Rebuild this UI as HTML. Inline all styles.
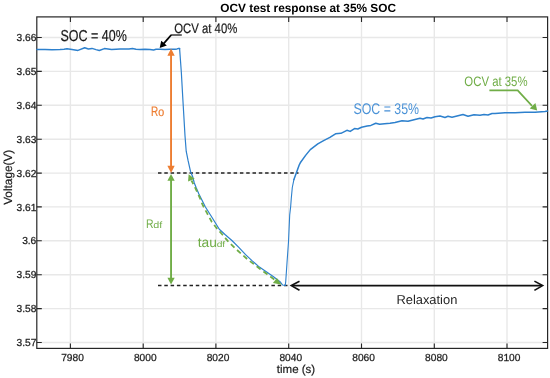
<!DOCTYPE html>
<html><head><meta charset="utf-8"><title>OCV test response at 35% SOC</title>
<style>
html,body{margin:0;padding:0;background:#fff;}
body{width:550px;height:378px;overflow:hidden;}
svg{display:block;}
text{font-family:"Liberation Sans",Arial,Helvetica,sans-serif;text-rendering:geometricPrecision;}
</style></head>
<body>
<svg width="550" height="378" viewBox="0 0 550 378">
<rect x="0" y="0" width="550" height="378" fill="#fff"/>
<path d="M70.4 16.9V348.4M143.2 16.9V348.4M215.9 16.9V348.4M288.7 16.9V348.4M361.5 16.9V348.4M434.3 16.9V348.4M507.0 16.9V348.4M36.8 37.5H547.6M36.8 71.4H547.6M36.8 105.3H547.6M36.8 139.2H547.6M36.8 173.1H547.6M36.8 206.9H547.6M36.8 240.8H547.6M36.8 274.7H547.6M36.8 308.6H547.6M36.8 342.5H547.6" stroke="#e8e8e8" stroke-width="1.4" fill="none"/>
<rect x="36.8" y="16.9" width="510.8" height="331.5" fill="none" stroke="#262626" stroke-width="1.2"/>
<path d="M70.4 348.4v-5M70.4 16.9v5M143.2 348.4v-5M143.2 16.9v5M215.9 348.4v-5M215.9 16.9v5M288.7 348.4v-5M288.7 16.9v5M361.5 348.4v-5M361.5 16.9v5M434.3 348.4v-5M434.3 16.9v5M507.0 348.4v-5M507.0 16.9v5M36.8 37.5h5M547.6 37.5h-5M36.8 71.4h5M547.6 71.4h-5M36.8 105.3h5M547.6 105.3h-5M36.8 139.2h5M547.6 139.2h-5M36.8 173.1h5M547.6 173.1h-5M36.8 206.9h5M547.6 206.9h-5M36.8 240.8h5M547.6 240.8h-5M36.8 274.7h5M547.6 274.7h-5M36.8 308.6h5M547.6 308.6h-5M36.8 342.5h5M547.6 342.5h-5" stroke="#262626" stroke-width="1.1" fill="none"/>
<g font-size="10.2" fill="#1c1c1c" stroke="#1c1c1c" stroke-width="0.25" text-anchor="end"><text x="36.3" y="41.1">3.66</text><text x="36.3" y="75.0">3.65</text><text x="36.3" y="108.9">3.64</text><text x="36.3" y="142.8">3.63</text><text x="36.3" y="176.7">3.62</text><text x="36.3" y="210.5">3.61</text><text x="36.3" y="244.4">3.6</text><text x="36.3" y="278.3">3.59</text><text x="36.3" y="312.2">3.58</text><text x="36.3" y="346.1">3.57</text></g>
<g font-size="10.2" fill="#1c1c1c" stroke="#1c1c1c" stroke-width="0.25" text-anchor="middle"><text x="72.5" y="360.8">7980</text><text x="145.3" y="360.8">8000</text><text x="218.0" y="360.8">8020</text><text x="290.8" y="360.8">8040</text><text x="363.6" y="360.8">8060</text><text x="436.4" y="360.8">8080</text><text x="509.1" y="360.8">8100</text></g>
<text x="296" y="373" font-size="11.5" fill="#1c1c1c" stroke="#1c1c1c" stroke-width="0.2" text-anchor="middle">time (s)</text>
<text transform="translate(11.6,177.3) rotate(-90)" font-size="11.8" fill="#1c1c1c" stroke="#1c1c1c" stroke-width="0.2" text-anchor="middle">Voltage(V)</text>
<text transform="translate(220.24,12.05) scale(0.991,1)" font-size="11.96" font-weight="bold" fill="#000000">OCV test response at 35% SOC</text>
<g stroke="#222" stroke-width="1.5" stroke-dasharray="3.5 2.8" fill="none">
<path d="M158 173.1H298.5"/>
<path d="M158 285.6H290"/>
</g>
<g fill="none" stroke="#2d80cd" stroke-linejoin="round" stroke-linecap="round">
<path stroke-width="1.5" d="M37 49.6L45 49.6L52 49.7L60 49.5L64 49.2L67 48.8L72 49.5L78 50.4L84.7 47.8L88.4 49L92 48.4L96 49.6L99.3 50.5L104.4 48.6L111.6 49.4L116 49.2L120 49.1L125 49L129 48.9L132.5 48.5L136 49.2L140 49.4L145 49.3L150 49.5L153.6 49.9L156 49.3L160 49.3L165 49.4L170 49.2L175 49.3L177 48.9L178.5 48.5L179.6 48.6"/><path stroke-width="1.2" d="M179.6 48.6L181.3 71.7L182.9 100L185 135.7L186.2 151.2L188.1 160.7L190.5 171.4L192.6 176.5L194.3 183L196.3 188L198.9 194.1L205.4 207L211.9 217.2L219.3 229.3L225 234.5L231.9 240.5L238.8 247.4L245.6 254.6L252.5 261.1L259.4 267.1L266.3 271.8L273.2 276.6L280 281.7L282.6 285L285.2 285.3"/><path stroke-width="1.1" d="M285.2 285.3L285.7 282L287 262.9L288.5 241.7L289.7 215L290.6 207.3L291.3 198.1L292.3 187.5L293.9 179.6"/><path stroke-width="1.5" d="M293.9 179.6L296.3 172.9L299.2 165L300.3 162.8L305.6 155.4L310.3 149.6L317.8 143.8L323.6 140.6L329.9 137.4L335.5 133.8L340.9 133.3L346.9 130.3L350.2 131.4L354.5 128.6L357.8 129L361.6 127.2L367.1 126.1L370.9 125.4L375.8 123.2L379.6 124.3L384.5 123.7L390 123.2L395 122.5L402 120.8L408 121.3L413 120L420 118.3L423 119L427 117.5L431 118L435 116.8L440 116L445 117.5L448 116.3L452 117.3L456 116.3L463 114.5L468 116.3L474 114.7L480 115.2L484 114.5L488 115L492 113.5L495 113.6L505 112.8L515 112.8L525 112.3L535 112.2L545 111.5L547.5 111"/>
</g>
<g fill="#ed7d31">
<rect x="170.1" y="54" width="1.9" height="113"/>
<path d="M171.05 48.6L174.7 55.8L167.4 55.8Z"/>
<path d="M171.05 172.9L174.7 165.8L167.4 165.8Z"/>
</g>
<text transform="translate(150.93,115.52) scale(0.719,1)" font-size="13.83" fill="#ed7d31" stroke="#ed7d31" stroke-width="0.2">R</text><text transform="translate(158.26,115.52) scale(1.132,1)" font-size="9.45" fill="#ed7d31" stroke="#ed7d31" stroke-width="0.2">0</text>
<g fill="#70ad47">
<rect x="170.1" y="180" width="1.9" height="99"/>
<path d="M171.05 174.1L174.7 180.8L167.4 180.8Z"/>
<path d="M171.05 284.6L174.7 277.8L167.4 277.8Z"/>
</g>
<text transform="translate(146.04,228.37) scale(0.834,1)" font-size="12.50" fill="#70ad47">R</text><text transform="translate(153.15,228.37) scale(1.169,1)" font-size="9.23" fill="#70ad47">df</text>
<path fill="none" stroke="#70ad47" stroke-width="1.8" stroke-dasharray="5 3.5" stroke-dashoffset="1" d="M191.5 180.5L195.7 188.8L199.7 197.5L202.5 204.6L207.2 213.4L211.7 221.7L216.7 228.2L222.3 234.5L227.9 241.2L234.9 248.1L240.9 253.5L247.2 259.1L253.8 264.1L260.1 269L267.3 274.3L275.5 280.3"/>
<path fill="#70ad47" d="M188.6 174.3L194.7 178.8L188.1 181.5Z"/>
<path fill="#70ad47" d="M281.6 284.8L272.9 283L276.9 277.9Z"/>
<text transform="translate(197.78,246.87) scale(1.001,1)" font-size="13.74" fill="#70ad47">tau</text><text transform="translate(216.67,246.87) scale(1.238,1)" font-size="8.24" fill="#70ad47">df</text>
<g stroke="#111" stroke-width="1.65" fill="none">
<path d="M292 285.6H541.5"/>
<path d="M299.5 281.3L291.3 285.6L299.5 290.2"/>
<path d="M534.4 281.1L542.6 285.6L534.4 290.4"/>
</g>
<text transform="translate(396.42,304.09) scale(1.001,1)" font-size="12.89" fill="#262626">Relaxation</text>
<text transform="translate(60.51,40.88) scale(0.788,1)" font-size="15.87" fill="#1a1a1a" stroke="#1a1a1a" stroke-width="0.2">SOC = 40%</text>
<text transform="translate(353.45,114.03) scale(0.800,1)" font-size="15.45" fill="#4a92d7">SOC = 35%</text>
<text transform="translate(174.24,33.15) scale(0.825,1)" font-size="13.76" fill="#1a1a1a" stroke="#1a1a1a" stroke-width="0.2">OCV at 40%</text>
<text transform="translate(464.33,86.09) scale(0.827,1)" font-size="13.76" fill="#70ad47">OCV at 35%</text>
<path fill="none" stroke="#1a1a1a" stroke-width="1.3" d="M181.8 35H170.8"/>
<path fill="none" stroke="#000" stroke-width="1.8" d="M171.2 35L163.2 44.2"/>
<path fill="#000" d="M159.7 47.9L161.2 40.8L166.8 45.6Z"/>
<path fill="none" stroke="#70ad47" stroke-width="1.7" d="M489.4 90.3H517.7L532 105.8"/>
<path fill="#70ad47" d="M537.2 110.4L529.7 108.4L535.4 103Z"/>
</svg>
</body></html>
